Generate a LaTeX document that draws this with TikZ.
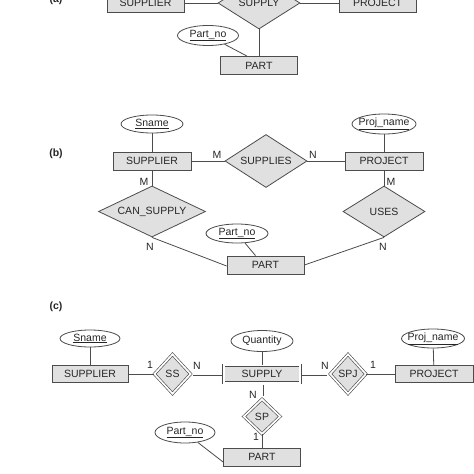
\documentclass[tikz,border=0pt]{standalone}
\usepackage{fontspec}
\setmainfont{Liberation Sans}
\usetikzlibrary{shapes.geometric}
\newcommand\attxt[1]{\makebox[0pt]{#1}}
\begin{document}
\begin{tikzpicture}[x=1pt,y=-1pt,
  every node/.style={font=\fontsize{10.5}{12}\selectfont, text=black!85},
  ent/.style={draw=black!70, fill=black!12, line width=0.8pt, rectangle, minimum width=77pt, minimum height=18pt, inner sep=0pt},
  rel/.style={draw=black!70, fill=black!12, line width=0.8pt, diamond, aspect=2, inner sep=0pt},
  attr/.style={draw=black!70, fill=white, line width=0.8pt, ellipse, minimum width=61pt, minimum height=19pt, inner sep=0pt},
  conn/.style={draw=black!70, line width=0.8pt},
  dconn/.style={draw=black!70, line width=0.65pt, double=white, double distance=1.7pt},
  dbl/.style={double=white, double distance=1.7pt, line width=0.65pt},
  card/.style={inner sep=0pt},
  lbl/.style={font=\bfseries\fontsize{10.5}{12}\selectfont}
]
\clip (0,0) rectangle (474,474);
\fill[white] (0,0) rectangle (474,474);

% ---------- (a)
\node[lbl] (la) at (56,-0.5) {(a)};
\node[ent] (supa) at (145.5,3) {SUPPLIER};
\node[rel, minimum width=82pt, minimum height=52pt] (supplya) at (259,3) {SUPPLY};
\node[ent] (proja) at (377.5,3) {PROJECT};
\node[attr, minimum height=20pt] (pna) at (208,35.5) {\attxt{\underline{Part\_no}}};
\node[ent] (parta) at (259,65.5) {PART};
\draw[conn] (supa.east) -- (supplya.west);
\draw[conn] (supplya.east) -- (proja.west);
\draw[conn] (supplya.south) -- (parta.north);
\draw[conn] (pna) -- ([xshift=-12pt]parta.north);

% ---------- (b)
\node[lbl] (lb) at (56,154) {(b)};
\node[attr, minimum width=62pt, minimum height=18pt] (snb) at (152,124) {\attxt{\underline{Sname}}};
\node[ent, minimum width=78pt] (supb) at (152,161) {SUPPLIER};
\node[rel, minimum width=82pt, minimum height=53pt] (supplies) at (266,161) {SUPPLIES};
\node[ent, minimum width=78pt] (projb) at (384,161) {PROJECT};
\node[attr, minimum width=64pt, minimum height=20pt] (pjnb) at (384,124) {\attxt{\underline{Proj\_name}}};
\node[rel, minimum width=107pt, minimum height=51pt] (cans) at (152,211.5) {CAN\_SUPPLY};
\node[rel, minimum width=82pt, minimum height=51pt] (uses) at (384,211.5) {USES};
\node[ent] (partb) at (265.5,265) {PART};
\node[attr, minimum width=62pt, minimum height=19pt] (pnb) at (237,233.5) {\attxt{\underline{Part\_no}}};
\draw[conn] (snb) -- (supb);
\draw[conn] (supb.east) -- (supplies.west);
\draw[conn] (supplies.east) -- (projb.west);
\draw[conn] (pjnb) -- (projb);
\draw[conn] (supb.south) -- (cans.north);
\draw[conn] (projb.south) -- (uses.north);
\draw[conn] (cans.south) -- ([yshift=-1pt]partb.west);
\draw[conn] (uses.south) -- (partb.east);
\draw[conn] (pnb) -- ([xshift=-10pt]partb.north);
\node[card] (cb1) at (217,155) {M};
\node[card] (cb2) at (313,155) {N};
\node[card] (cb3) at (144,182) {M};
\node[card] (cb4) at (150,247) {N};
\node[card] (cb5) at (391,182) {M};
\node[card] (cb6) at (383,247) {N};

% ---------- (c)
\node[lbl] (lc) at (56,307) {(c)};
\node[attr, minimum width=60pt, minimum height=17pt] (snc) at (90,338.5) {\attxt{\underline{Sname}}};
\node[ent, minimum width=76pt, minimum height=17pt] (supc) at (90,374) {SUPPLIER};
\node[rel, dbl, minimum width=36.5pt, minimum height=39.5pt] (ss) at (172.5,374) {SS};
\node[ent, dbl, minimum width=76.5pt, minimum height=17.5pt] (supplyc) at (262,374) {SUPPLY};
\node[attr, minimum width=62pt, minimum height=21pt] (qty) at (262,341) {\attxt{Quantity}};
\node[rel, dbl, minimum width=36pt, minimum height=39.5pt] (spj) at (348,374) {SPJ};
\node[ent, minimum width=78pt, minimum height=17pt] (projc) at (434,374) {PROJECT};
\node[attr, minimum width=63pt, minimum height=19pt] (pjnc) at (433,338.5) {\attxt{\underline{Proj\_name}}};
\node[rel, dbl, minimum width=36.5pt, minimum height=35pt] (sp) at (262,416.5) {SP};
\node[ent] (partc) at (262,457) {PART};
\node[attr, minimum width=60pt, minimum height=21pt] (pnc) at (185,432.5) {\attxt{\underline{Part\_no}}};
\draw[conn] (snc) -- (supc);
\draw[conn] (supc.east) -- (ss.west);
\draw[dconn, shorten <=2.4pt, shorten >=1.6pt] (ss.east) -- (supplyc.west);
\draw[dconn, shorten <=1.6pt, shorten >=2.4pt] (supplyc.east) -- (spj.west);
\draw[conn] (spj.east) -- (projc.west);
\draw[conn] (qty) -- (supplyc);
\draw[conn] (pjnc) -- (projc);
\draw[dconn, shorten <=1.6pt, shorten >=2.4pt] (supplyc.south) -- (sp.north);
\draw[conn] (sp.south) -- (partc.north);
\draw[conn] (pnc) -- ([yshift=-5pt]partc.west);
\node[card] (cc1) at (150,365) {1};
\node[card] (cc2) at (197,366) {N};
\node[card] (cc3) at (325,366) {N};
\node[card] (cc4) at (373,365) {1};
\node[card] (cc5) at (253,395) {N};
\node[card] (cc6) at (256,437) {1};
\end{tikzpicture}
\end{document}
